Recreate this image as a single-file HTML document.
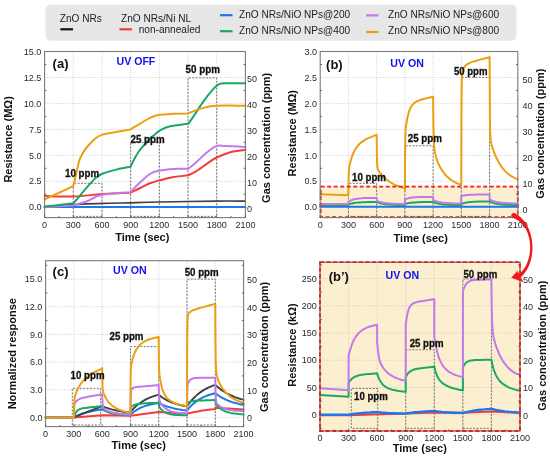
<!DOCTYPE html><html><head><meta charset="utf-8"><style>html,body{margin:0;padding:0;background:#fff;width:550px;height:458px;overflow:hidden}svg{display:block;will-change:transform}text{font-family:"Liberation Sans",sans-serif}</style></head><body>
<svg width="550" height="458" viewBox="0 0 550 458">
<rect x="45.5" y="4.5" width="471" height="36.2" rx="5" ry="5" fill="#e7e7e7"/>
<text x="59.80" y="21.80" font-size="10.10" font-weight="normal" fill="#222" text-anchor="start">ZnO NRs</text>
<line x1="60.4" y1="29.3" x2="73.0" y2="29.3" stroke="#111" stroke-width="2.2"/>
<text x="121.00" y="21.80" font-size="10.10" font-weight="normal" fill="#222" text-anchor="start">ZnO NRs/Ni NL</text>
<line x1="119.4" y1="29.3" x2="132.0" y2="29.3" stroke="#f23c3c" stroke-width="2.2"/>
<text x="138.70" y="32.80" font-size="10.10" font-weight="normal" fill="#222" text-anchor="start">non-annealed</text>
<line x1="220.0" y1="15.2" x2="232.5" y2="15.2" stroke="#1f78e6" stroke-width="2.2"/>
<text x="239.00" y="18.00" font-size="10.10" font-weight="normal" fill="#222" text-anchor="start">ZnO NRs/NiO NPs@200</text>
<line x1="220.0" y1="31.2" x2="232.5" y2="31.2" stroke="#1aa866" stroke-width="2.2"/>
<text x="239.00" y="34.20" font-size="10.10" font-weight="normal" fill="#222" text-anchor="start">ZnO NRs/NiO NPs@400</text>
<line x1="366.0" y1="15.4" x2="378.4" y2="15.4" stroke="#c378ec" stroke-width="2.2"/>
<text x="388.00" y="17.60" font-size="10.10" font-weight="normal" fill="#222" text-anchor="start">ZnO NRs/NiO NPs@600</text>
<line x1="366.0" y1="32.0" x2="378.4" y2="32.0" stroke="#eba00f" stroke-width="2.2"/>
<text x="388.00" y="33.90" font-size="10.10" font-weight="normal" fill="#222" text-anchor="start">ZnO NRs/NiO NPs@800</text>
<line x1="73.29" y1="51.50" x2="73.29" y2="217.60" stroke="#cdcdcd" stroke-width="0.9" stroke-dasharray="1,1.3"/>
<line x1="101.97" y1="51.50" x2="101.97" y2="217.60" stroke="#cdcdcd" stroke-width="0.9" stroke-dasharray="1,1.3"/>
<line x1="130.66" y1="51.50" x2="130.66" y2="217.60" stroke="#cdcdcd" stroke-width="0.9" stroke-dasharray="1,1.3"/>
<line x1="159.34" y1="51.50" x2="159.34" y2="217.60" stroke="#cdcdcd" stroke-width="0.9" stroke-dasharray="1,1.3"/>
<line x1="188.03" y1="51.50" x2="188.03" y2="217.60" stroke="#cdcdcd" stroke-width="0.9" stroke-dasharray="1,1.3"/>
<line x1="216.71" y1="51.50" x2="216.71" y2="217.60" stroke="#cdcdcd" stroke-width="0.9" stroke-dasharray="1,1.3"/>
<line x1="44.60" y1="207.22" x2="245.40" y2="207.22" stroke="#cdcdcd" stroke-width="0.9" stroke-dasharray="1,1.3"/>
<line x1="44.60" y1="181.27" x2="245.40" y2="181.27" stroke="#cdcdcd" stroke-width="0.9" stroke-dasharray="1,1.3"/>
<line x1="44.60" y1="155.31" x2="245.40" y2="155.31" stroke="#cdcdcd" stroke-width="0.9" stroke-dasharray="1,1.3"/>
<line x1="44.60" y1="129.36" x2="245.40" y2="129.36" stroke="#cdcdcd" stroke-width="0.9" stroke-dasharray="1,1.3"/>
<line x1="44.60" y1="103.41" x2="245.40" y2="103.41" stroke="#cdcdcd" stroke-width="0.9" stroke-dasharray="1,1.3"/>
<line x1="44.60" y1="77.45" x2="245.40" y2="77.45" stroke="#cdcdcd" stroke-width="0.9" stroke-dasharray="1,1.3"/>
<path d="M73.29,216.40 L73.29,183.30 L101.97,183.30 L101.97,216.40 Z" fill="none" stroke="#666" stroke-width="0.9" stroke-dasharray="2,1.4"/>
<path d="M130.66,216.40 L130.66,142.40 L159.34,142.40 L159.34,216.40 Z" fill="none" stroke="#666" stroke-width="0.9" stroke-dasharray="2,1.4"/>
<path d="M188.03,216.40 L188.03,77.90 L216.71,77.90 L216.71,216.40 Z" fill="none" stroke="#666" stroke-width="0.9" stroke-dasharray="2,1.4"/>
<path d="M44.6,206.9 C78.1,206.9 211.9,206.9 245.4,206.9" fill="none" stroke="#1f78e6" stroke-width="2.00" stroke-linejoin="round" stroke-linecap="round"/>
<path d="M44.6,206.7 C49.4,206.4 68.5,205.0 73.3,204.6 L73.3,204.6 C78.1,204.4 92.4,203.7 102.0,203.4 C111.5,203.1 121.1,203.0 130.7,202.8 C140.2,202.5 145.0,202.3 159.3,202.0 C173.7,201.8 202.4,201.2 216.7,201.1 C231.1,200.9 240.6,201.1 245.4,201.1" fill="none" stroke="#404040" stroke-width="1.70" stroke-linejoin="round" stroke-linecap="round"/>
<path d="M44.6,196.0 C49.4,196.1 63.7,196.8 73.3,196.5 C82.8,196.2 92.5,194.8 102.0,194.1 C111.5,193.5 125.6,192.9 130.4,192.7 L130.4,192.7 C132.0,191.9 137.0,189.6 140.2,188.0 C143.5,186.5 146.6,184.6 149.8,183.3 C153.0,182.1 155.6,181.5 159.5,180.4 C163.5,179.4 168.6,178.0 173.4,177.1 C178.1,176.3 185.6,175.6 188.0,175.3 L188.0,175.3 C189.3,174.7 192.3,173.7 195.5,171.7 C198.7,169.8 203.6,166.0 207.2,163.6 C210.7,161.2 212.6,159.4 216.6,157.5 C220.6,155.6 226.3,153.3 231.1,152.0 C235.9,150.7 243.0,150.2 245.4,149.8" fill="none" stroke="#f23c3c" stroke-width="2.00" stroke-linejoin="round" stroke-linecap="round"/>
<path d="M44.6,207.2 C49.4,206.9 68.5,205.7 73.3,205.4 L73.3,205.4 C75.7,204.6 82.8,202.8 87.6,201.0 C92.4,199.2 94.8,196.2 102.0,194.8 C109.1,193.3 125.6,192.6 130.4,192.2 L130.4,192.2 C132.0,190.5 137.0,185.3 140.2,182.3 C143.5,179.3 146.6,176.0 149.8,174.0 C153.0,172.0 155.6,171.4 159.5,170.6 C163.5,169.7 168.6,169.2 173.4,168.9 C178.1,168.6 185.6,168.9 188.0,168.9 L188.0,168.9 C189.3,167.9 192.3,165.7 195.5,162.9 C198.7,160.1 203.6,155.0 207.2,152.2 C210.7,149.4 213.8,146.9 216.6,145.9 C219.4,144.8 219.0,145.7 223.8,145.9 C228.6,146.0 241.8,146.7 245.4,146.9" fill="none" stroke="#c378ec" stroke-width="2.00" stroke-linejoin="round" stroke-linecap="round"/>
<path d="M44.6,206.7 C49.4,206.1 68.5,203.8 73.3,203.3 L73.3,203.3 C73.9,202.6 75.5,201.0 77.1,199.1 C78.7,197.3 80.8,194.6 82.8,192.2 C84.9,189.7 87.3,186.8 89.5,184.4 C91.8,182.0 94.0,179.4 96.2,177.6 C98.5,175.8 99.6,174.8 102.9,173.5 C106.3,172.1 111.7,170.8 116.3,169.6 C120.9,168.5 128.0,167.2 130.4,166.7 L130.4,166.7 C131.7,164.3 135.1,156.9 138.3,152.2 C141.5,147.5 147.2,141.5 149.8,138.7 C152.4,135.9 152.4,136.5 154.0,135.2 C155.6,133.9 156.9,132.3 159.4,130.8 C162.0,129.4 164.4,127.6 169.3,126.5 C174.1,125.3 185.3,124.1 188.5,123.6 L188.5,123.6 C189.7,121.9 192.9,117.3 195.5,113.4 C198.1,109.5 200.7,104.9 204.2,100.3 C207.7,95.7 213.4,88.6 216.6,85.8 C219.9,82.9 219.0,83.7 223.8,83.3 C228.6,82.9 241.8,83.3 245.4,83.3" fill="none" stroke="#1aa866" stroke-width="2.00" stroke-linejoin="round" stroke-linecap="round"/>
<path d="M44.6,199.4 C49.4,197.2 68.5,188.4 73.3,186.1 L73.3,186.1 C73.8,184.1 75.2,178.3 76.2,174.0 C77.2,169.7 78.2,164.0 79.3,160.5 C80.4,157.0 81.6,155.5 82.8,153.2 C84.1,151.0 85.0,149.4 87.1,147.0 C89.1,144.6 92.5,140.8 95.0,138.7 C97.5,136.6 98.7,135.7 102.3,134.6 C105.8,133.4 111.6,132.8 116.3,132.0 C121.0,131.1 128.0,129.8 130.4,129.4 L130.4,129.4 C132.0,128.4 137.0,125.6 140.2,123.6 C143.5,121.7 146.8,119.4 150.0,117.9 C153.2,116.5 155.4,115.5 159.3,114.8 C163.3,114.1 168.9,114.0 173.7,113.8 C178.5,113.5 185.6,113.4 188.0,113.4 L188.0,113.4 C189.6,112.7 194.4,110.7 197.6,109.6 C200.8,108.6 204.0,107.7 207.2,107.0 C210.3,106.4 210.3,105.9 216.7,105.7 C223.1,105.5 240.6,105.7 245.4,105.7" fill="none" stroke="#eba00f" stroke-width="2.00" stroke-linejoin="round" stroke-linecap="round"/>
<rect x="44.60" y="51.50" width="200.80" height="166.10" fill="none" stroke="#7a7a7a" stroke-width="1.1"/>
<line x1="44.60" y1="217.60" x2="44.60" y2="215.40" stroke="#555" stroke-width="0.9"/>
<line x1="58.94" y1="217.60" x2="58.94" y2="216.10" stroke="#555" stroke-width="0.9"/>
<line x1="73.29" y1="217.60" x2="73.29" y2="215.40" stroke="#555" stroke-width="0.9"/>
<line x1="87.63" y1="217.60" x2="87.63" y2="216.10" stroke="#555" stroke-width="0.9"/>
<line x1="101.97" y1="217.60" x2="101.97" y2="215.40" stroke="#555" stroke-width="0.9"/>
<line x1="116.31" y1="217.60" x2="116.31" y2="216.10" stroke="#555" stroke-width="0.9"/>
<line x1="130.66" y1="217.60" x2="130.66" y2="215.40" stroke="#555" stroke-width="0.9"/>
<line x1="145.00" y1="217.60" x2="145.00" y2="216.10" stroke="#555" stroke-width="0.9"/>
<line x1="159.34" y1="217.60" x2="159.34" y2="215.40" stroke="#555" stroke-width="0.9"/>
<line x1="173.69" y1="217.60" x2="173.69" y2="216.10" stroke="#555" stroke-width="0.9"/>
<line x1="188.03" y1="217.60" x2="188.03" y2="215.40" stroke="#555" stroke-width="0.9"/>
<line x1="202.37" y1="217.60" x2="202.37" y2="216.10" stroke="#555" stroke-width="0.9"/>
<line x1="216.71" y1="217.60" x2="216.71" y2="215.40" stroke="#555" stroke-width="0.9"/>
<line x1="231.06" y1="217.60" x2="231.06" y2="216.10" stroke="#555" stroke-width="0.9"/>
<line x1="245.40" y1="217.60" x2="245.40" y2="215.40" stroke="#555" stroke-width="0.9"/>
<line x1="44.60" y1="194.24" x2="46.40" y2="194.24" stroke="#555" stroke-width="0.9"/>
<line x1="44.60" y1="168.29" x2="46.40" y2="168.29" stroke="#555" stroke-width="0.9"/>
<line x1="44.60" y1="142.34" x2="46.40" y2="142.34" stroke="#555" stroke-width="0.9"/>
<line x1="44.60" y1="116.38" x2="46.40" y2="116.38" stroke="#555" stroke-width="0.9"/>
<line x1="44.60" y1="90.43" x2="46.40" y2="90.43" stroke="#555" stroke-width="0.9"/>
<line x1="44.60" y1="64.48" x2="46.40" y2="64.48" stroke="#555" stroke-width="0.9"/>
<line x1="245.40" y1="194.24" x2="243.60" y2="194.24" stroke="#555" stroke-width="0.9"/>
<line x1="245.40" y1="168.29" x2="243.60" y2="168.29" stroke="#555" stroke-width="0.9"/>
<line x1="245.40" y1="142.34" x2="243.60" y2="142.34" stroke="#555" stroke-width="0.9"/>
<line x1="245.40" y1="116.38" x2="243.60" y2="116.38" stroke="#555" stroke-width="0.9"/>
<line x1="245.40" y1="90.43" x2="243.60" y2="90.43" stroke="#555" stroke-width="0.9"/>
<line x1="245.40" y1="64.48" x2="243.60" y2="64.48" stroke="#555" stroke-width="0.9"/>
<text x="44.60" y="227.80" font-size="9.00" font-weight="normal" fill="#2a2a2a" text-anchor="middle">0</text>
<text x="73.29" y="227.80" font-size="9.00" font-weight="normal" fill="#2a2a2a" text-anchor="middle">300</text>
<text x="101.97" y="227.80" font-size="9.00" font-weight="normal" fill="#2a2a2a" text-anchor="middle">600</text>
<text x="130.66" y="227.80" font-size="9.00" font-weight="normal" fill="#2a2a2a" text-anchor="middle">900</text>
<text x="159.34" y="227.80" font-size="9.00" font-weight="normal" fill="#2a2a2a" text-anchor="middle">1200</text>
<text x="188.03" y="227.80" font-size="9.00" font-weight="normal" fill="#2a2a2a" text-anchor="middle">1500</text>
<text x="216.71" y="227.80" font-size="9.00" font-weight="normal" fill="#2a2a2a" text-anchor="middle">1800</text>
<text x="245.40" y="227.80" font-size="9.00" font-weight="normal" fill="#2a2a2a" text-anchor="middle">2100</text>
<text x="41.40" y="210.42" font-size="9.00" font-weight="normal" fill="#2a2a2a" text-anchor="end">0.0</text>
<text x="41.40" y="184.47" font-size="9.00" font-weight="normal" fill="#2a2a2a" text-anchor="end">2.5</text>
<text x="41.40" y="158.51" font-size="9.00" font-weight="normal" fill="#2a2a2a" text-anchor="end">5.0</text>
<text x="41.40" y="132.56" font-size="9.00" font-weight="normal" fill="#2a2a2a" text-anchor="end">7.5</text>
<text x="41.40" y="106.61" font-size="9.00" font-weight="normal" fill="#2a2a2a" text-anchor="end">10.0</text>
<text x="41.40" y="80.65" font-size="9.00" font-weight="normal" fill="#2a2a2a" text-anchor="end">12.5</text>
<text x="41.40" y="54.70" font-size="9.00" font-weight="normal" fill="#2a2a2a" text-anchor="end">15.0</text>
<text x="246.90" y="211.62" font-size="9.00" font-weight="normal" fill="#2a2a2a" text-anchor="start">0</text>
<text x="246.90" y="185.67" font-size="9.00" font-weight="normal" fill="#2a2a2a" text-anchor="start">10</text>
<text x="246.90" y="159.71" font-size="9.00" font-weight="normal" fill="#2a2a2a" text-anchor="start">20</text>
<text x="246.90" y="133.76" font-size="9.00" font-weight="normal" fill="#2a2a2a" text-anchor="start">30</text>
<text x="246.90" y="107.81" font-size="9.00" font-weight="normal" fill="#2a2a2a" text-anchor="start">40</text>
<text x="246.90" y="81.85" font-size="9.00" font-weight="normal" fill="#2a2a2a" text-anchor="start">50</text>
<text x="52.60" y="67.60" font-size="13.00" font-weight="bold" fill="#111" text-anchor="start">(a)</text>
<text x="116.50" y="65.00" font-size="10.60" font-weight="bold" fill="#1010f0" text-anchor="start">UV OFF</text>
<text x="65.00" y="177.40" font-size="10.20" font-weight="bold" fill="#111" text-anchor="start" textLength="34.1" lengthAdjust="spacingAndGlyphs" stroke="#111" stroke-width="0.30">10 ppm</text>
<text x="130.50" y="143.00" font-size="10.20" font-weight="bold" fill="#111" text-anchor="start" textLength="34.2" lengthAdjust="spacingAndGlyphs" stroke="#111" stroke-width="0.30">25 ppm</text>
<text x="185.60" y="73.30" font-size="10.20" font-weight="bold" fill="#111" text-anchor="start" textLength="34.3" lengthAdjust="spacingAndGlyphs" stroke="#111" stroke-width="0.30">50 ppm</text>
<text x="142.30" y="241.00" font-size="11.00" font-weight="bold" fill="#111" text-anchor="middle">Time (sec)</text>
<text transform="translate(11.80,139.40) rotate(-90)" x="0" y="0" font-size="11.00" font-weight="bold" fill="#111" text-anchor="middle">Resistance (MΩ)</text>
<text transform="translate(269.50,137.80) rotate(-90)" x="0" y="0" font-size="11.00" font-weight="bold" fill="#111" text-anchor="middle">Gas concentration (ppm)</text>
<rect x="320.20" y="186.6" width="197.60" height="31.00" fill="#fcefcf"/>
<line x1="348.43" y1="51.50" x2="348.43" y2="217.60" stroke="#cdcdcd" stroke-width="0.9" stroke-dasharray="1,1.3"/>
<line x1="376.66" y1="51.50" x2="376.66" y2="217.60" stroke="#cdcdcd" stroke-width="0.9" stroke-dasharray="1,1.3"/>
<line x1="404.89" y1="51.50" x2="404.89" y2="217.60" stroke="#cdcdcd" stroke-width="0.9" stroke-dasharray="1,1.3"/>
<line x1="433.11" y1="51.50" x2="433.11" y2="217.60" stroke="#cdcdcd" stroke-width="0.9" stroke-dasharray="1,1.3"/>
<line x1="461.34" y1="51.50" x2="461.34" y2="217.60" stroke="#cdcdcd" stroke-width="0.9" stroke-dasharray="1,1.3"/>
<line x1="489.57" y1="51.50" x2="489.57" y2="217.60" stroke="#cdcdcd" stroke-width="0.9" stroke-dasharray="1,1.3"/>
<line x1="320.20" y1="207.22" x2="517.80" y2="207.22" stroke="#cdcdcd" stroke-width="0.9" stroke-dasharray="1,1.3"/>
<line x1="320.20" y1="181.27" x2="517.80" y2="181.27" stroke="#cdcdcd" stroke-width="0.9" stroke-dasharray="1,1.3"/>
<line x1="320.20" y1="155.31" x2="517.80" y2="155.31" stroke="#cdcdcd" stroke-width="0.9" stroke-dasharray="1,1.3"/>
<line x1="320.20" y1="129.36" x2="517.80" y2="129.36" stroke="#cdcdcd" stroke-width="0.9" stroke-dasharray="1,1.3"/>
<line x1="320.20" y1="103.41" x2="517.80" y2="103.41" stroke="#cdcdcd" stroke-width="0.9" stroke-dasharray="1,1.3"/>
<line x1="320.20" y1="77.45" x2="517.80" y2="77.45" stroke="#cdcdcd" stroke-width="0.9" stroke-dasharray="1,1.3"/>
<path d="M348.43,216.40 L348.43,183.30 L376.66,183.30 L376.66,216.40 Z" fill="none" stroke="#666" stroke-width="0.9" stroke-dasharray="2,1.4"/>
<path d="M404.89,216.40 L404.89,145.80 L433.11,145.80 L433.11,216.40 Z" fill="none" stroke="#666" stroke-width="0.9" stroke-dasharray="2,1.4"/>
<path d="M461.34,216.40 L461.34,77.40 L489.57,77.40 L489.57,216.40 Z" fill="none" stroke="#666" stroke-width="0.9" stroke-dasharray="2,1.4"/>
<path d="M320.2,206.7 L517.8,206.7" fill="none" stroke="#1f78e6" stroke-width="2.00" stroke-linejoin="round" stroke-linecap="round"/>
<path d="M320.2,205.1 L348.4,205.1 L348.4,204.6 L348.5,204.6 L348.6,204.5 L348.7,204.5 L348.8,204.5 L349.0,204.4 L349.2,204.3 L349.4,204.2 L349.7,204.1 L349.9,204.0 L350.3,203.9 L350.8,203.7 L351.3,203.6 L351.8,203.5 L352.4,203.3 L353.1,203.2 L354.1,203.0 L355.0,202.8 L356.0,202.7 L357.4,202.6 L358.8,202.4 L360.2,202.4 L361.6,202.3 L363.5,202.2 L365.4,202.2 L367.2,202.1 L369.6,202.1 L372.0,202.1 L374.3,202.1 L376.7,202.0 L376.7,202.0 L376.8,202.1 L376.8,202.1 L376.9,202.1 L377.0,202.2 L377.2,202.3 L377.4,202.3 L377.6,202.4 L377.9,202.5 L378.2,202.6 L378.5,202.7 L379.0,202.9 L379.5,203.0 L380.0,203.2 L380.6,203.3 L381.4,203.5 L382.3,203.7 L383.2,203.8 L384.2,204.0 L385.6,204.2 L387.0,204.4 L388.4,204.5 L389.8,204.6 L391.7,204.7 L393.6,204.8 L395.5,204.9 L397.8,205.0 L400.2,205.0 L402.5,205.0 L404.9,205.1 L404.9,204.1 L405.0,204.1 L405.1,204.0 L405.2,204.0 L405.3,204.0 L405.5,203.9 L405.6,203.8 L405.8,203.8 L406.1,203.7 L406.4,203.6 L406.8,203.5 L407.2,203.4 L407.7,203.3 L408.3,203.2 L408.8,203.1 L409.6,202.9 L410.5,202.8 L411.5,202.7 L412.4,202.6 L413.8,202.5 L415.2,202.4 L416.6,202.3 L418.1,202.2 L419.9,202.2 L421.8,202.1 L423.7,202.1 L426.1,202.1 L428.4,202.1 L430.8,202.0 L433.1,202.0 L433.1,202.0 L433.2,202.1 L433.3,202.1 L433.4,202.1 L433.5,202.2 L433.7,202.3 L433.9,202.3 L434.1,202.4 L434.3,202.5 L434.6,202.6 L435.0,202.7 L435.5,202.9 L435.9,203.0 L436.5,203.2 L437.1,203.3 L437.8,203.5 L438.8,203.7 L439.7,203.8 L440.6,204.0 L442.1,204.2 L443.5,204.4 L444.9,204.5 L446.3,204.6 L448.2,204.7 L450.1,204.8 L451.9,204.9 L454.3,205.0 L456.6,205.0 L459.0,205.0 L461.3,205.1 L461.3,204.1 L461.4,204.1 L461.5,204.0 L461.6,204.0 L461.7,203.9 L461.9,203.9 L462.1,203.8 L462.3,203.7 L462.6,203.6 L462.8,203.5 L463.2,203.4 L463.7,203.2 L464.2,203.1 L464.7,202.9 L465.3,202.8 L466.0,202.6 L467.0,202.5 L467.9,202.3 L468.9,202.2 L470.3,202.0 L471.7,201.9 L473.1,201.8 L474.5,201.8 L476.4,201.7 L478.3,201.6 L480.2,201.6 L482.5,201.6 L484.9,201.5 L487.2,201.5 L489.6,201.5 L489.6,201.5 L489.7,201.6 L489.8,201.6 L489.9,201.6 L489.9,201.7 L490.1,201.8 L490.3,201.9 L490.5,201.9 L490.8,202.1 L491.1,202.2 L491.5,202.3 L491.9,202.5 L492.4,202.6 L493.0,202.8 L493.5,203.0 L494.3,203.2 L495.2,203.4 L496.2,203.6 L497.1,203.8 L498.5,204.0 L499.9,204.2 L501.3,204.4 L502.7,204.5 L504.6,204.7 L506.5,204.8 L508.4,204.8 L510.7,204.9 L513.1,205.0 L515.4,205.0 L517.8,205.1" fill="none" stroke="#1aa866" stroke-width="2.00" stroke-linejoin="round" stroke-linecap="round"/>
<path d="M320.2,204.0 L348.4,204.0 L348.4,201.8 L348.5,201.8 L348.6,201.7 L348.7,201.6 L348.8,201.6 L349.0,201.4 L349.2,201.3 L349.4,201.2 L349.7,201.1 L349.9,200.9 L350.3,200.7 L350.8,200.5 L351.3,200.3 L351.8,200.0 L352.4,199.8 L353.1,199.6 L354.1,199.3 L355.0,199.1 L356.0,198.9 L357.4,198.7 L358.8,198.5 L360.2,198.4 L361.6,198.3 L363.5,198.1 L365.4,198.1 L367.2,198.0 L369.6,198.0 L372.0,197.9 L374.3,197.9 L376.7,197.9 L376.7,200.9 L376.8,200.9 L376.8,201.0 L376.9,201.0 L377.0,201.0 L377.2,201.1 L377.4,201.2 L377.6,201.3 L377.9,201.4 L378.2,201.5 L378.5,201.6 L379.0,201.7 L379.5,201.9 L380.0,202.0 L380.6,202.2 L381.4,202.3 L382.3,202.5 L383.2,202.7 L384.2,202.9 L385.6,203.1 L387.0,203.2 L388.4,203.3 L389.8,203.5 L391.7,203.6 L393.6,203.7 L395.5,203.7 L397.8,203.8 L400.2,203.9 L402.5,203.9 L404.9,203.9 L404.9,199.4 L405.0,199.4 L405.1,199.3 L405.2,199.3 L405.3,199.3 L405.5,199.2 L405.6,199.1 L405.8,199.0 L406.1,198.9 L406.4,198.8 L406.8,198.7 L407.2,198.5 L407.7,198.4 L408.3,198.3 L408.8,198.1 L409.6,198.0 L410.5,197.8 L411.5,197.6 L412.4,197.5 L413.8,197.4 L415.2,197.3 L416.6,197.2 L418.1,197.1 L419.9,197.0 L421.8,197.0 L423.7,196.9 L426.1,196.9 L428.4,196.9 L430.8,196.9 L433.1,196.9 L433.1,200.0 L433.2,200.0 L433.3,200.0 L433.4,200.1 L433.5,200.1 L433.7,200.2 L433.9,200.3 L434.1,200.4 L434.3,200.5 L434.6,200.6 L435.0,200.8 L435.5,200.9 L435.9,201.1 L436.5,201.3 L437.1,201.4 L437.8,201.6 L438.8,201.9 L439.7,202.1 L440.6,202.2 L442.1,202.5 L443.5,202.7 L444.9,202.8 L446.3,203.0 L448.2,203.1 L450.1,203.2 L451.9,203.3 L454.3,203.4 L456.6,203.4 L459.0,203.5 L461.3,203.5 L461.3,196.1 L461.4,196.0 L461.5,196.0 L461.6,196.0 L461.7,196.0 L461.9,195.9 L462.1,195.9 L462.3,195.8 L462.6,195.8 L462.8,195.7 L463.2,195.6 L463.7,195.5 L464.2,195.4 L464.7,195.4 L465.3,195.3 L466.0,195.2 L467.0,195.1 L467.9,195.0 L468.9,194.9 L470.3,194.8 L471.7,194.8 L473.1,194.7 L474.5,194.7 L476.4,194.6 L478.3,194.6 L480.2,194.6 L482.5,194.5 L484.9,194.5 L487.2,194.5 L489.6,194.5 L489.6,199.4 L489.7,199.5 L489.8,199.5 L489.9,199.6 L489.9,199.6 L490.1,199.7 L490.3,199.8 L490.5,199.9 L490.8,200.1 L491.1,200.2 L491.5,200.4 L491.9,200.5 L492.4,200.7 L493.0,200.9 L493.5,201.1 L494.3,201.4 L495.2,201.6 L496.2,201.9 L497.1,202.1 L498.5,202.3 L499.9,202.5 L501.3,202.7 L502.7,202.9 L504.6,203.0 L506.5,203.1 L508.4,203.2 L510.7,203.3 L513.1,203.4 L515.4,203.5 L517.8,203.5" fill="none" stroke="#c378ec" stroke-width="2.00" stroke-linejoin="round" stroke-linecap="round"/>
<path d="M320.2,194.2 L348.4,195.3 L348.4,195.3 L348.5,185.2 L348.6,178.9 L348.7,174.8 L348.8,172.2 L349.0,169.2 L349.2,167.5 L349.4,166.4 L349.7,165.0 L349.9,163.8 L350.3,162.3 L350.8,160.5 L351.3,158.9 L351.8,157.2 L352.4,155.6 L353.1,153.7 L354.1,151.6 L355.0,149.8 L356.0,148.2 L357.4,146.3 L358.8,144.6 L360.2,143.3 L361.6,142.1 L363.5,140.8 L365.4,139.7 L367.2,138.7 L369.6,137.6 L372.0,136.6 L374.3,135.6 L376.7,134.7 L376.7,135.2 L376.8,144.6 L376.8,151.4 L376.9,156.3 L377.0,159.9 L377.2,164.4 L377.4,166.8 L377.6,168.2 L377.9,169.4 L378.2,170.1 L378.5,170.7 L379.0,171.4 L379.5,172.1 L380.0,172.8 L380.6,173.5 L381.4,174.4 L382.3,175.5 L383.2,176.5 L384.2,177.4 L385.6,178.7 L387.0,179.9 L388.4,181.0 L389.8,182.0 L391.7,183.1 L393.6,184.2 L395.5,185.1 L397.8,186.0 L400.2,186.9 L402.5,187.6 L404.9,188.2 L404.9,190.6 L405.0,168.0 L405.1,154.0 L405.2,145.2 L405.3,139.5 L405.5,133.1 L405.6,129.8 L405.8,127.7 L406.1,125.4 L406.4,123.4 L406.8,121.1 L407.2,118.6 L407.7,116.4 L408.3,114.1 L408.8,112.2 L409.6,110.0 L410.5,107.9 L411.5,106.2 L412.4,104.9 L413.8,103.4 L415.2,102.3 L416.6,101.5 L418.1,100.8 L419.9,100.1 L421.8,99.5 L423.7,99.0 L426.1,98.4 L428.4,97.8 L430.8,97.2 L433.1,96.7 L433.1,96.7 L433.2,109.4 L433.3,118.8 L433.4,125.8 L433.5,131.0 L433.7,138.1 L433.9,142.5 L434.1,145.3 L434.3,148.3 L434.6,150.4 L435.0,152.6 L435.5,154.9 L435.9,156.7 L436.5,158.7 L437.1,160.4 L437.8,162.4 L438.8,164.5 L439.7,166.4 L440.6,168.1 L442.1,170.4 L443.5,172.4 L444.9,174.2 L446.3,175.7 L448.2,177.6 L450.1,179.1 L451.9,180.5 L454.3,181.9 L456.6,183.1 L459.0,184.0 L461.3,184.8 L461.3,182.8 L461.4,140.0 L461.5,113.9 L461.6,97.9 L461.7,88.1 L461.9,78.2 L462.1,74.2 L462.3,72.4 L462.6,71.1 L462.8,70.2 L463.2,69.3 L463.7,68.4 L464.2,67.6 L464.7,66.7 L465.3,66.0 L466.0,65.2 L467.0,64.4 L467.9,63.8 L468.9,63.3 L470.3,62.6 L471.7,62.1 L473.1,61.6 L474.5,61.2 L476.4,60.7 L478.3,60.1 L480.2,59.6 L482.5,59.0 L484.9,58.4 L487.2,57.8 L489.6,57.2 L489.6,56.7 L489.7,80.1 L489.8,97.0 L489.9,109.2 L489.9,118.1 L490.1,129.2 L490.3,135.2 L490.5,138.7 L490.8,141.5 L491.1,143.1 L491.5,144.6 L491.9,146.2 L492.4,147.6 L493.0,149.2 L493.5,150.8 L494.3,152.8 L495.2,155.1 L496.2,157.2 L497.1,159.2 L498.5,161.9 L499.9,164.3 L501.3,166.4 L502.7,168.3 L504.6,170.5 L506.5,172.4 L508.4,174.1 L510.7,175.8 L513.1,177.2 L515.4,178.4 L517.8,179.3" fill="none" stroke="#eba00f" stroke-width="2.00" stroke-linejoin="round" stroke-linecap="round"/>
<rect x="320.70" y="186.6" width="197.10" height="30.60" fill="none" stroke="#e8201c" stroke-width="1.8" stroke-dasharray="4,2.5"/>
<rect x="320.20" y="51.50" width="197.60" height="166.10" fill="none" stroke="#7a7a7a" stroke-width="1.1"/>
<line x1="320.20" y1="217.60" x2="320.20" y2="215.40" stroke="#555" stroke-width="0.9"/>
<line x1="334.31" y1="217.60" x2="334.31" y2="216.10" stroke="#555" stroke-width="0.9"/>
<line x1="348.43" y1="217.60" x2="348.43" y2="215.40" stroke="#555" stroke-width="0.9"/>
<line x1="362.54" y1="217.60" x2="362.54" y2="216.10" stroke="#555" stroke-width="0.9"/>
<line x1="376.66" y1="217.60" x2="376.66" y2="215.40" stroke="#555" stroke-width="0.9"/>
<line x1="390.77" y1="217.60" x2="390.77" y2="216.10" stroke="#555" stroke-width="0.9"/>
<line x1="404.89" y1="217.60" x2="404.89" y2="215.40" stroke="#555" stroke-width="0.9"/>
<line x1="419.00" y1="217.60" x2="419.00" y2="216.10" stroke="#555" stroke-width="0.9"/>
<line x1="433.11" y1="217.60" x2="433.11" y2="215.40" stroke="#555" stroke-width="0.9"/>
<line x1="447.23" y1="217.60" x2="447.23" y2="216.10" stroke="#555" stroke-width="0.9"/>
<line x1="461.34" y1="217.60" x2="461.34" y2="215.40" stroke="#555" stroke-width="0.9"/>
<line x1="475.46" y1="217.60" x2="475.46" y2="216.10" stroke="#555" stroke-width="0.9"/>
<line x1="489.57" y1="217.60" x2="489.57" y2="215.40" stroke="#555" stroke-width="0.9"/>
<line x1="503.69" y1="217.60" x2="503.69" y2="216.10" stroke="#555" stroke-width="0.9"/>
<line x1="517.80" y1="217.60" x2="517.80" y2="215.40" stroke="#555" stroke-width="0.9"/>
<line x1="320.20" y1="194.24" x2="322.00" y2="194.24" stroke="#555" stroke-width="0.9"/>
<line x1="320.20" y1="168.29" x2="322.00" y2="168.29" stroke="#555" stroke-width="0.9"/>
<line x1="320.20" y1="142.34" x2="322.00" y2="142.34" stroke="#555" stroke-width="0.9"/>
<line x1="320.20" y1="116.38" x2="322.00" y2="116.38" stroke="#555" stroke-width="0.9"/>
<line x1="320.20" y1="90.43" x2="322.00" y2="90.43" stroke="#555" stroke-width="0.9"/>
<line x1="320.20" y1="64.48" x2="322.00" y2="64.48" stroke="#555" stroke-width="0.9"/>
<line x1="517.80" y1="194.24" x2="516.00" y2="194.24" stroke="#555" stroke-width="0.9"/>
<line x1="517.80" y1="168.29" x2="516.00" y2="168.29" stroke="#555" stroke-width="0.9"/>
<line x1="517.80" y1="142.34" x2="516.00" y2="142.34" stroke="#555" stroke-width="0.9"/>
<line x1="517.80" y1="116.38" x2="516.00" y2="116.38" stroke="#555" stroke-width="0.9"/>
<line x1="517.80" y1="90.43" x2="516.00" y2="90.43" stroke="#555" stroke-width="0.9"/>
<line x1="517.80" y1="64.48" x2="516.00" y2="64.48" stroke="#555" stroke-width="0.9"/>
<text x="320.20" y="227.80" font-size="9.00" font-weight="normal" fill="#2a2a2a" text-anchor="middle">0</text>
<text x="348.43" y="227.80" font-size="9.00" font-weight="normal" fill="#2a2a2a" text-anchor="middle">300</text>
<text x="376.66" y="227.80" font-size="9.00" font-weight="normal" fill="#2a2a2a" text-anchor="middle">600</text>
<text x="404.89" y="227.80" font-size="9.00" font-weight="normal" fill="#2a2a2a" text-anchor="middle">900</text>
<text x="433.11" y="227.80" font-size="9.00" font-weight="normal" fill="#2a2a2a" text-anchor="middle">1200</text>
<text x="461.34" y="227.80" font-size="9.00" font-weight="normal" fill="#2a2a2a" text-anchor="middle">1500</text>
<text x="489.57" y="227.80" font-size="9.00" font-weight="normal" fill="#2a2a2a" text-anchor="middle">1800</text>
<text x="517.80" y="227.80" font-size="9.00" font-weight="normal" fill="#2a2a2a" text-anchor="middle">2100</text>
<text x="317.00" y="210.42" font-size="9.00" font-weight="normal" fill="#2a2a2a" text-anchor="end">0.0</text>
<text x="317.00" y="184.47" font-size="9.00" font-weight="normal" fill="#2a2a2a" text-anchor="end">0.5</text>
<text x="317.00" y="158.51" font-size="9.00" font-weight="normal" fill="#2a2a2a" text-anchor="end">1.0</text>
<text x="317.00" y="132.56" font-size="9.00" font-weight="normal" fill="#2a2a2a" text-anchor="end">1.5</text>
<text x="317.00" y="106.61" font-size="9.00" font-weight="normal" fill="#2a2a2a" text-anchor="end">2.0</text>
<text x="317.00" y="80.65" font-size="9.00" font-weight="normal" fill="#2a2a2a" text-anchor="end">2.5</text>
<text x="317.00" y="54.70" font-size="9.00" font-weight="normal" fill="#2a2a2a" text-anchor="end">3.0</text>
<text x="522.60" y="212.82" font-size="9.00" font-weight="normal" fill="#2a2a2a" text-anchor="start">0</text>
<text x="522.60" y="186.87" font-size="9.00" font-weight="normal" fill="#2a2a2a" text-anchor="start">10</text>
<text x="522.60" y="160.91" font-size="9.00" font-weight="normal" fill="#2a2a2a" text-anchor="start">20</text>
<text x="522.60" y="134.96" font-size="9.00" font-weight="normal" fill="#2a2a2a" text-anchor="start">30</text>
<text x="522.60" y="109.01" font-size="9.00" font-weight="normal" fill="#2a2a2a" text-anchor="start">40</text>
<text x="522.60" y="83.05" font-size="9.00" font-weight="normal" fill="#2a2a2a" text-anchor="start">50</text>
<text x="326.10" y="68.90" font-size="13.00" font-weight="bold" fill="#111" text-anchor="start">(b)</text>
<text x="390.30" y="66.50" font-size="10.60" font-weight="bold" fill="#1010f0" text-anchor="start">UV ON</text>
<text x="352.00" y="180.70" font-size="10.20" font-weight="bold" fill="#111" text-anchor="start" textLength="34.0" lengthAdjust="spacingAndGlyphs" stroke="#111" stroke-width="0.30">10 ppm</text>
<text x="407.70" y="142.40" font-size="10.20" font-weight="bold" fill="#111" text-anchor="start" textLength="34.3" lengthAdjust="spacingAndGlyphs" stroke="#111" stroke-width="0.30">25 ppm</text>
<text x="453.90" y="75.00" font-size="10.20" font-weight="bold" fill="#111" text-anchor="start" textLength="33.6" lengthAdjust="spacingAndGlyphs" stroke="#111" stroke-width="0.30">50 ppm</text>
<text x="420.70" y="242.00" font-size="11.00" font-weight="bold" fill="#111" text-anchor="middle">Time (sec)</text>
<text transform="translate(295.90,133.20) rotate(-90)" x="0" y="0" font-size="11.00" font-weight="bold" fill="#111" text-anchor="middle">Resistance (MΩ)</text>
<text transform="translate(544.20,133.70) rotate(-90)" x="0" y="0" font-size="11.00" font-weight="bold" fill="#111" text-anchor="middle">Gas concentration (ppm)</text>
<line x1="73.89" y1="260.70" x2="73.89" y2="426.60" stroke="#cdcdcd" stroke-width="0.9" stroke-dasharray="1,1.3"/>
<line x1="102.17" y1="260.70" x2="102.17" y2="426.60" stroke="#cdcdcd" stroke-width="0.9" stroke-dasharray="1,1.3"/>
<line x1="130.46" y1="260.70" x2="130.46" y2="426.60" stroke="#cdcdcd" stroke-width="0.9" stroke-dasharray="1,1.3"/>
<line x1="158.74" y1="260.70" x2="158.74" y2="426.60" stroke="#cdcdcd" stroke-width="0.9" stroke-dasharray="1,1.3"/>
<line x1="187.03" y1="260.70" x2="187.03" y2="426.60" stroke="#cdcdcd" stroke-width="0.9" stroke-dasharray="1,1.3"/>
<line x1="215.31" y1="260.70" x2="215.31" y2="426.60" stroke="#cdcdcd" stroke-width="0.9" stroke-dasharray="1,1.3"/>
<line x1="45.60" y1="417.38" x2="243.60" y2="417.38" stroke="#cdcdcd" stroke-width="0.9" stroke-dasharray="1,1.3"/>
<line x1="45.60" y1="389.73" x2="243.60" y2="389.73" stroke="#cdcdcd" stroke-width="0.9" stroke-dasharray="1,1.3"/>
<line x1="45.60" y1="362.08" x2="243.60" y2="362.08" stroke="#cdcdcd" stroke-width="0.9" stroke-dasharray="1,1.3"/>
<line x1="45.60" y1="334.43" x2="243.60" y2="334.43" stroke="#cdcdcd" stroke-width="0.9" stroke-dasharray="1,1.3"/>
<line x1="45.60" y1="306.78" x2="243.60" y2="306.78" stroke="#cdcdcd" stroke-width="0.9" stroke-dasharray="1,1.3"/>
<line x1="45.60" y1="279.13" x2="243.60" y2="279.13" stroke="#cdcdcd" stroke-width="0.9" stroke-dasharray="1,1.3"/>
<path d="M72.30,425.00 L72.30,388.30 L100.60,388.30 L100.60,425.00 Z" fill="none" stroke="#666" stroke-width="0.9" stroke-dasharray="2,1.4"/>
<path d="M130.46,425.00 L130.46,346.60 L158.74,346.60 L158.74,425.00 Z" fill="none" stroke="#666" stroke-width="0.9" stroke-dasharray="2,1.4"/>
<path d="M187.03,425.00 L187.03,279.13 L215.31,279.13 L215.31,425.00 Z" fill="none" stroke="#666" stroke-width="0.9" stroke-dasharray="2,1.4"/>
<path d="M45.6,417.4 L73.9,417.4 L73.9,417.4 L102.2,415.2 L102.2,415.2 L130.5,415.8 L130.5,415.8 L158.7,412.0 L158.7,412.0 L187.0,413.7 L187.0,413.7 L187.1,413.7 L187.2,413.6 L187.3,413.6 L187.4,413.6 L187.6,413.6 L187.8,413.5 L188.0,413.5 L188.3,413.4 L188.5,413.3 L188.9,413.2 L189.4,413.1 L189.9,413.0 L190.4,412.9 L191.0,412.7 L191.7,412.6 L192.7,412.4 L193.6,412.2 L194.6,412.0 L196.0,411.7 L197.4,411.4 L198.8,411.2 L200.2,410.9 L202.1,410.6 L204.0,410.4 L205.9,410.1 L208.2,409.8 L210.6,409.5 L213.0,409.3 L215.3,409.0 L215.3,407.8 L243.6,409.5" fill="none" stroke="#f23c3c" stroke-width="2.00" stroke-linejoin="round" stroke-linecap="round"/>
<path d="M45.6,416.9 L73.9,417.4 L73.9,417.4 L74.0,417.3 L74.1,417.3 L74.2,417.2 L74.3,417.2 L74.5,417.1 L74.6,417.0 L74.8,416.9 L75.1,416.7 L75.4,416.6 L75.8,416.4 L76.2,416.2 L76.7,416.0 L77.3,415.7 L77.8,415.5 L78.6,415.1 L79.5,414.8 L80.5,414.4 L81.4,414.0 L82.8,413.5 L84.3,413.1 L85.7,412.7 L87.1,412.3 L89.0,411.8 L90.9,411.4 L92.7,411.0 L95.1,410.5 L97.5,410.1 L99.8,409.8 L102.2,409.5 L102.2,409.5 L102.3,409.6 L102.4,409.6 L102.5,409.7 L102.5,409.7 L102.7,409.8 L102.9,409.9 L103.1,410.0 L103.4,410.1 L103.7,410.2 L104.1,410.3 L104.5,410.5 L105.0,410.7 L105.6,410.9 L106.1,411.1 L106.9,411.3 L107.8,411.6 L108.8,411.9 L109.7,412.2 L111.1,412.5 L112.5,412.8 L114.0,413.1 L115.4,413.3 L117.3,413.6 L119.1,413.9 L121.0,414.1 L123.4,414.3 L125.7,414.5 L128.1,414.7 L130.5,414.8 L130.5,414.6 L130.6,414.5 L130.6,414.4 L130.7,414.4 L130.8,414.3 L131.0,414.1 L131.2,413.9 L131.4,413.8 L131.7,413.5 L132.0,413.3 L132.3,413.0 L132.8,412.6 L133.3,412.3 L133.9,411.8 L134.4,411.4 L135.2,410.9 L136.1,410.3 L137.1,409.7 L138.0,409.2 L139.4,408.4 L140.8,407.7 L142.2,407.1 L143.7,406.6 L145.5,405.9 L147.4,405.3 L149.3,404.8 L151.7,404.2 L154.0,403.7 L156.4,403.3 L158.7,402.9 L158.7,403.0 L158.8,403.1 L158.9,403.1 L159.0,403.2 L159.1,403.2 L159.3,403.3 L159.5,403.4 L159.7,403.5 L160.0,403.6 L160.3,403.8 L160.6,403.9 L161.1,404.2 L161.6,404.4 L162.1,404.6 L162.7,404.9 L163.5,405.2 L164.4,405.5 L165.3,405.9 L166.3,406.2 L167.7,406.7 L169.1,407.1 L170.5,407.5 L171.9,407.9 L173.8,408.4 L175.7,408.8 L177.6,409.2 L180.0,409.6 L182.3,410.0 L184.7,410.3 L187.0,410.6 L187.0,410.5 L187.1,410.3 L187.2,410.2 L187.3,410.1 L187.4,410.0 L187.6,409.8 L187.8,409.5 L188.0,409.3 L188.3,408.9 L188.5,408.6 L188.9,408.2 L189.4,407.6 L189.9,407.1 L190.4,406.5 L191.0,405.9 L191.7,405.2 L192.7,404.3 L193.6,403.5 L194.6,402.7 L196.0,401.6 L197.4,400.6 L198.8,399.7 L200.2,398.8 L202.1,397.8 L204.0,396.9 L205.9,396.1 L208.2,395.3 L210.6,394.5 L213.0,393.8 L215.3,393.3 L215.3,393.2 L215.4,393.3 L215.5,393.4 L215.6,393.5 L215.7,393.5 L215.9,393.7 L216.1,393.8 L216.3,394.0 L216.5,394.2 L216.8,394.4 L217.2,394.7 L217.7,395.0 L218.1,395.3 L218.7,395.7 L219.3,396.1 L220.0,396.5 L221.0,397.1 L221.9,397.6 L222.9,398.2 L224.3,398.9 L225.7,399.6 L227.1,400.2 L228.5,400.8 L230.4,401.5 L232.3,402.1 L234.2,402.7 L236.5,403.3 L238.9,403.9 L241.2,404.4 L243.6,404.8" fill="none" stroke="#1f78e6" stroke-width="2.00" stroke-linejoin="round" stroke-linecap="round"/>
<path d="M45.6,417.4 L73.9,417.4 L73.9,417.1 L102.2,406.1 L102.2,406.1 L102.3,406.2 L102.4,406.2 L102.5,406.3 L102.5,406.3 L102.7,406.4 L102.9,406.5 L103.1,406.5 L103.4,406.6 L103.7,406.8 L104.1,406.9 L104.5,407.1 L105.0,407.3 L105.6,407.5 L106.1,407.7 L106.9,407.9 L107.8,408.2 L108.8,408.5 L109.7,408.8 L111.1,409.2 L112.5,409.6 L114.0,409.9 L115.4,410.3 L117.3,410.6 L119.1,411.0 L121.0,411.3 L123.4,411.7 L125.7,412.0 L128.1,412.3 L130.5,412.6 L130.5,411.9 L130.6,411.7 L130.6,411.6 L130.7,411.5 L130.8,411.4 L131.0,411.2 L131.2,411.0 L131.4,410.8 L131.7,410.5 L132.0,410.2 L132.3,409.7 L132.8,409.3 L133.3,408.8 L133.9,408.2 L134.4,407.7 L135.2,407.0 L136.1,406.1 L137.1,405.3 L138.0,404.6 L139.4,403.5 L140.8,402.5 L142.2,401.6 L143.7,400.7 L145.5,399.7 L147.4,398.7 L149.3,397.9 L151.7,396.9 L154.0,396.1 L156.4,395.3 L158.7,394.7 L158.7,394.8 L158.8,394.9 L158.9,395.0 L159.0,395.0 L159.1,395.1 L159.3,395.3 L159.5,395.4 L159.7,395.6 L160.0,395.8 L160.3,396.0 L160.6,396.3 L161.1,396.7 L161.6,397.0 L162.1,397.4 L162.7,397.8 L163.5,398.3 L164.4,398.9 L165.3,399.4 L166.3,399.9 L167.7,400.7 L169.1,401.3 L170.5,402.0 L171.9,402.5 L173.8,403.2 L175.7,403.8 L177.6,404.4 L180.0,405.0 L182.3,405.5 L184.7,406.0 L187.0,406.4 L187.0,406.3 L187.1,406.2 L187.2,406.0 L187.3,405.9 L187.4,405.8 L187.6,405.5 L187.8,405.2 L188.0,405.0 L188.3,404.6 L188.5,404.2 L188.9,403.7 L189.4,403.1 L189.9,402.5 L190.4,401.8 L191.0,401.1 L191.7,400.2 L192.7,399.2 L193.6,398.2 L194.6,397.2 L196.0,395.9 L197.4,394.6 L198.8,393.5 L200.2,392.4 L202.1,391.1 L204.0,389.9 L205.9,388.8 L208.2,387.6 L210.6,386.6 L213.0,385.7 L215.3,384.8 L215.3,384.8 L215.4,384.9 L215.5,385.0 L215.6,385.1 L215.7,385.2 L215.9,385.4 L216.1,385.6 L216.3,385.7 L216.5,386.0 L216.8,386.2 L217.2,386.6 L217.7,387.0 L218.1,387.4 L218.7,387.8 L219.3,388.3 L220.0,388.9 L221.0,389.6 L221.9,390.2 L222.9,390.9 L224.3,391.8 L225.7,392.7 L227.1,393.5 L228.5,394.2 L230.4,395.2 L232.3,396.0 L234.2,396.8 L236.5,397.7 L238.9,398.5 L241.2,399.2 L243.6,399.8" fill="none" stroke="#404040" stroke-width="1.90" stroke-linejoin="round" stroke-linecap="round"/>
<path d="M45.6,417.4 L73.9,417.4 L73.9,417.4 L74.0,417.0 L74.1,416.7 L74.2,416.4 L74.3,416.1 L74.5,415.6 L74.6,415.0 L74.8,414.6 L75.1,413.9 L75.4,413.3 L75.8,412.6 L76.2,411.9 L76.7,411.3 L77.3,410.7 L77.8,410.2 L78.6,409.7 L79.5,409.3 L80.5,408.9 L81.4,408.6 L82.8,408.3 L84.3,408.1 L85.7,407.9 L87.1,407.7 L89.0,407.5 L90.9,407.3 L92.7,407.1 L95.1,406.9 L97.5,406.6 L99.8,406.4 L102.2,406.1 L102.2,406.1 L102.3,406.8 L102.4,407.4 L102.5,407.8 L102.5,408.1 L102.7,408.5 L102.9,408.8 L103.1,409.1 L103.4,409.4 L103.7,409.6 L104.1,409.9 L104.5,410.3 L105.0,410.6 L105.6,410.9 L106.1,411.3 L106.9,411.6 L107.8,412.1 L108.8,412.5 L109.7,412.8 L111.1,413.2 L112.5,413.5 L114.0,413.8 L115.4,414.0 L117.3,414.2 L119.1,414.4 L121.0,414.5 L123.4,414.6 L125.7,414.7 L128.1,414.8 L130.5,414.8 L130.5,414.8 L130.6,411.7 L130.6,409.9 L130.7,408.7 L130.8,407.9 L131.0,407.1 L131.2,406.8 L131.4,406.5 L131.7,406.3 L132.0,406.1 L132.3,405.9 L132.8,405.6 L133.3,405.4 L133.9,405.2 L134.4,405.0 L135.2,404.7 L136.1,404.5 L137.1,404.3 L138.0,404.1 L139.4,403.9 L140.8,403.7 L142.2,403.6 L143.7,403.5 L145.5,403.3 L147.4,403.2 L149.3,403.1 L151.7,403.0 L154.0,402.9 L156.4,402.8 L158.7,402.6 L158.7,402.6 L158.8,403.8 L158.9,404.6 L159.0,405.3 L159.1,405.8 L159.3,406.5 L159.5,407.0 L159.7,407.4 L160.0,407.9 L160.3,408.3 L160.6,408.7 L161.1,409.3 L161.6,409.8 L162.1,410.3 L162.7,410.8 L163.5,411.4 L164.4,412.0 L165.3,412.5 L166.3,412.9 L167.7,413.5 L169.1,413.9 L170.5,414.2 L171.9,414.5 L173.8,414.7 L175.7,414.9 L177.6,415.0 L180.0,415.1 L182.3,415.2 L184.7,415.3 L187.0,415.3 L187.0,415.3 L187.1,410.6 L187.2,407.7 L187.3,405.9 L187.4,404.8 L187.6,403.6 L187.8,403.1 L188.0,402.8 L188.3,402.6 L188.5,402.4 L188.9,402.2 L189.4,401.9 L189.9,401.7 L190.4,401.5 L191.0,401.4 L191.7,401.2 L192.7,401.0 L193.6,400.9 L194.6,400.8 L196.0,400.7 L197.4,400.6 L198.8,400.5 L200.2,400.5 L202.1,400.4 L204.0,400.4 L205.9,400.3 L208.2,400.2 L210.6,400.2 L213.0,400.1 L215.3,400.1 L215.3,400.1 L215.4,401.2 L215.5,402.1 L215.6,402.7 L215.7,403.2 L215.9,403.9 L216.1,404.4 L216.3,404.8 L216.5,405.2 L216.8,405.5 L217.2,405.9 L217.7,406.4 L218.1,406.8 L218.7,407.3 L219.3,407.8 L220.0,408.4 L221.0,409.0 L221.9,409.6 L222.9,410.2 L224.3,410.9 L225.7,411.5 L227.1,412.0 L228.5,412.4 L230.4,412.9 L232.3,413.2 L234.2,413.5 L236.5,413.8 L238.9,414.1 L241.2,414.2 L243.6,414.4" fill="none" stroke="#1aa866" stroke-width="2.00" stroke-linejoin="round" stroke-linecap="round"/>
<path d="M45.6,417.4 L73.9,417.4 L73.9,417.4 L74.0,412.1 L74.1,408.9 L74.2,406.9 L74.3,405.6 L74.5,404.2 L74.6,403.5 L74.8,403.0 L75.1,402.6 L75.4,402.2 L75.8,401.8 L76.2,401.3 L76.7,400.8 L77.3,400.4 L77.8,400.0 L78.6,399.5 L79.5,399.0 L80.5,398.6 L81.4,398.3 L82.8,397.9 L84.3,397.5 L85.7,397.2 L87.1,396.9 L89.0,396.5 L90.9,396.2 L92.7,395.9 L95.1,395.5 L97.5,395.1 L99.8,394.7 L102.2,394.3 L102.2,394.5 L102.3,397.5 L102.4,399.8 L102.5,401.6 L102.5,403.0 L102.7,405.0 L102.9,406.3 L103.1,407.1 L103.4,407.9 L103.7,408.3 L104.1,408.7 L104.5,409.1 L105.0,409.4 L105.6,409.8 L106.1,410.1 L106.9,410.5 L107.8,410.9 L108.8,411.3 L109.7,411.7 L111.1,412.1 L112.5,412.6 L114.0,412.9 L115.4,413.2 L117.3,413.6 L119.1,413.8 L121.0,414.1 L123.4,414.3 L125.7,414.5 L128.1,414.6 L130.5,414.7 L130.5,414.7 L130.6,405.5 L130.6,399.8 L130.7,396.2 L130.8,394.0 L131.0,391.6 L131.2,390.5 L131.4,389.9 L131.7,389.3 L132.0,388.9 L132.3,388.5 L132.8,388.1 L133.3,387.8 L133.9,387.6 L134.4,387.4 L135.2,387.2 L136.1,387.1 L137.1,386.9 L138.0,386.8 L139.4,386.7 L140.8,386.6 L142.2,386.5 L143.7,386.4 L145.5,386.2 L147.4,386.0 L149.3,385.9 L151.7,385.7 L154.0,385.5 L156.4,385.3 L158.7,385.1 L158.7,385.1 L158.8,389.5 L158.9,392.7 L159.0,395.0 L159.1,396.7 L159.3,398.9 L159.5,400.2 L159.7,401.1 L160.0,401.9 L160.3,402.5 L160.6,403.1 L161.1,403.8 L161.6,404.4 L162.1,405.1 L162.7,405.8 L163.5,406.6 L164.4,407.5 L165.3,408.3 L166.3,408.9 L167.7,409.8 L169.1,410.5 L170.5,411.1 L171.9,411.6 L173.8,412.1 L175.7,412.4 L177.6,412.7 L180.0,413.0 L182.3,413.2 L184.7,413.3 L187.0,413.4 L187.0,413.4 L187.1,402.3 L187.2,395.5 L187.3,391.2 L187.4,388.5 L187.6,385.6 L187.8,384.3 L188.0,383.5 L188.3,382.7 L188.5,382.1 L188.9,381.5 L189.4,380.8 L189.9,380.3 L190.4,379.7 L191.0,379.3 L191.7,378.9 L192.7,378.5 L193.6,378.3 L194.6,378.1 L196.0,377.9 L197.4,377.9 L198.8,377.8 L200.2,377.8 L202.1,377.8 L204.0,377.8 L205.9,377.8 L208.2,377.8 L210.6,377.8 L213.0,377.8 L215.3,377.8 L215.3,377.8 L215.4,384.6 L215.5,389.6 L215.6,393.2 L215.7,395.8 L215.9,399.1 L216.1,400.9 L216.3,402.0 L216.5,402.9 L216.8,403.4 L217.2,403.9 L217.7,404.4 L218.1,404.8 L218.7,405.3 L219.3,405.8 L220.0,406.3 L221.0,406.9 L221.9,407.5 L222.9,407.9 L224.3,408.5 L225.7,409.0 L227.1,409.4 L228.5,409.7 L230.4,410.1 L232.3,410.3 L234.2,410.5 L236.5,410.7 L238.9,410.8 L241.2,410.9 L243.6,411.0" fill="none" stroke="#c378ec" stroke-width="2.00" stroke-linejoin="round" stroke-linecap="round"/>
<path d="M45.6,417.4 L73.9,417.4 L73.9,417.4 L74.0,411.9 L74.1,407.8 L74.2,404.9 L74.3,402.6 L74.5,399.7 L74.6,398.0 L74.8,396.8 L75.1,395.6 L75.4,394.7 L75.8,393.6 L76.2,392.5 L76.7,391.4 L77.3,390.1 L77.8,388.9 L78.6,387.5 L79.5,385.8 L80.5,384.3 L81.4,383.0 L82.8,381.2 L84.3,379.6 L85.7,378.2 L87.1,376.9 L89.0,375.5 L90.9,374.2 L92.7,373.0 L95.1,371.8 L97.5,370.6 L99.8,369.6 L102.2,368.6 L102.2,368.1 L102.3,376.5 L102.4,381.8 L102.5,385.1 L102.5,387.2 L102.7,389.6 L102.9,390.8 L103.1,391.6 L103.4,392.5 L103.7,393.3 L104.1,394.2 L104.5,395.3 L105.0,396.3 L105.6,397.5 L106.1,398.5 L106.9,399.7 L107.8,401.1 L108.8,402.3 L109.7,403.3 L111.1,404.7 L112.5,405.9 L114.0,406.9 L115.4,407.8 L117.3,408.8 L119.1,409.7 L121.0,410.4 L123.4,411.1 L125.7,411.7 L128.1,412.2 L130.5,412.6 L130.5,412.6 L130.6,391.0 L130.6,379.6 L130.7,373.5 L130.8,370.1 L131.0,366.8 L131.2,365.2 L131.4,364.1 L131.7,362.7 L132.0,361.4 L132.3,359.9 L132.8,358.1 L133.3,356.6 L133.9,354.9 L134.4,353.5 L135.2,351.8 L136.1,349.9 L137.1,348.4 L138.0,347.1 L139.4,345.4 L140.8,344.1 L142.2,342.9 L143.7,342.0 L145.5,340.9 L147.4,340.0 L149.3,339.3 L151.7,338.6 L154.0,338.0 L156.4,337.5 L158.7,337.1 L158.7,336.7 L158.8,350.5 L158.9,359.2 L159.0,364.7 L159.1,368.3 L159.3,372.5 L159.5,374.9 L159.7,376.5 L160.0,378.5 L160.3,380.1 L160.6,382.1 L161.1,384.3 L161.6,386.3 L162.1,388.3 L162.7,390.1 L163.5,392.0 L164.4,394.1 L165.3,395.7 L166.3,397.1 L167.7,398.7 L169.1,399.9 L170.5,400.9 L171.9,401.7 L173.8,402.7 L175.7,403.4 L177.6,404.0 L180.0,404.7 L182.3,405.2 L184.7,405.7 L187.0,406.1 L187.0,407.3 L187.1,371.3 L187.2,349.3 L187.3,335.9 L187.4,327.7 L187.6,319.6 L187.8,316.4 L188.0,315.0 L188.3,314.1 L188.5,313.6 L188.9,313.1 L189.4,312.6 L189.9,312.2 L190.4,311.7 L191.0,311.3 L191.7,310.9 L192.7,310.4 L193.6,310.0 L194.6,309.7 L196.0,309.2 L197.4,308.8 L198.8,308.3 L200.2,307.9 L202.1,307.4 L204.0,306.9 L205.9,306.4 L208.2,305.7 L210.6,305.0 L213.0,304.4 L215.3,303.7 L215.3,304.0 L215.4,325.2 L215.5,339.6 L215.6,349.5 L215.7,356.4 L215.9,364.6 L216.1,368.9 L216.3,371.3 L216.5,373.6 L216.8,375.2 L217.2,376.8 L217.7,378.5 L218.1,379.9 L218.7,381.4 L219.3,382.8 L220.0,384.3 L221.0,386.0 L221.9,387.5 L222.9,388.9 L224.3,390.7 L225.7,392.4 L227.1,393.8 L228.5,395.1 L230.4,396.7 L232.3,398.0 L234.2,399.1 L236.5,400.3 L238.9,401.3 L241.2,402.2 L243.6,402.9" fill="none" stroke="#eba00f" stroke-width="2.00" stroke-linejoin="round" stroke-linecap="round"/>
<rect x="45.60" y="260.70" width="198.00" height="165.90" fill="none" stroke="#7a7a7a" stroke-width="1.1"/>
<line x1="45.60" y1="426.60" x2="45.60" y2="424.40" stroke="#555" stroke-width="0.9"/>
<line x1="59.74" y1="426.60" x2="59.74" y2="425.10" stroke="#555" stroke-width="0.9"/>
<line x1="73.89" y1="426.60" x2="73.89" y2="424.40" stroke="#555" stroke-width="0.9"/>
<line x1="88.03" y1="426.60" x2="88.03" y2="425.10" stroke="#555" stroke-width="0.9"/>
<line x1="102.17" y1="426.60" x2="102.17" y2="424.40" stroke="#555" stroke-width="0.9"/>
<line x1="116.31" y1="426.60" x2="116.31" y2="425.10" stroke="#555" stroke-width="0.9"/>
<line x1="130.46" y1="426.60" x2="130.46" y2="424.40" stroke="#555" stroke-width="0.9"/>
<line x1="144.60" y1="426.60" x2="144.60" y2="425.10" stroke="#555" stroke-width="0.9"/>
<line x1="158.74" y1="426.60" x2="158.74" y2="424.40" stroke="#555" stroke-width="0.9"/>
<line x1="172.89" y1="426.60" x2="172.89" y2="425.10" stroke="#555" stroke-width="0.9"/>
<line x1="187.03" y1="426.60" x2="187.03" y2="424.40" stroke="#555" stroke-width="0.9"/>
<line x1="201.17" y1="426.60" x2="201.17" y2="425.10" stroke="#555" stroke-width="0.9"/>
<line x1="215.31" y1="426.60" x2="215.31" y2="424.40" stroke="#555" stroke-width="0.9"/>
<line x1="229.46" y1="426.60" x2="229.46" y2="425.10" stroke="#555" stroke-width="0.9"/>
<line x1="243.60" y1="426.60" x2="243.60" y2="424.40" stroke="#555" stroke-width="0.9"/>
<line x1="45.60" y1="403.56" x2="47.40" y2="403.56" stroke="#555" stroke-width="0.9"/>
<line x1="45.60" y1="375.91" x2="47.40" y2="375.91" stroke="#555" stroke-width="0.9"/>
<line x1="45.60" y1="348.26" x2="47.40" y2="348.26" stroke="#555" stroke-width="0.9"/>
<line x1="45.60" y1="320.61" x2="47.40" y2="320.61" stroke="#555" stroke-width="0.9"/>
<line x1="45.60" y1="292.96" x2="47.40" y2="292.96" stroke="#555" stroke-width="0.9"/>
<line x1="45.60" y1="265.31" x2="47.40" y2="265.31" stroke="#555" stroke-width="0.9"/>
<line x1="243.60" y1="403.56" x2="241.80" y2="403.56" stroke="#555" stroke-width="0.9"/>
<line x1="243.60" y1="375.91" x2="241.80" y2="375.91" stroke="#555" stroke-width="0.9"/>
<line x1="243.60" y1="348.26" x2="241.80" y2="348.26" stroke="#555" stroke-width="0.9"/>
<line x1="243.60" y1="320.61" x2="241.80" y2="320.61" stroke="#555" stroke-width="0.9"/>
<line x1="243.60" y1="292.96" x2="241.80" y2="292.96" stroke="#555" stroke-width="0.9"/>
<line x1="243.60" y1="265.31" x2="241.80" y2="265.31" stroke="#555" stroke-width="0.9"/>
<text x="45.60" y="436.80" font-size="9.00" font-weight="normal" fill="#2a2a2a" text-anchor="middle">0</text>
<text x="73.89" y="436.80" font-size="9.00" font-weight="normal" fill="#2a2a2a" text-anchor="middle">300</text>
<text x="102.17" y="436.80" font-size="9.00" font-weight="normal" fill="#2a2a2a" text-anchor="middle">600</text>
<text x="130.46" y="436.80" font-size="9.00" font-weight="normal" fill="#2a2a2a" text-anchor="middle">900</text>
<text x="158.74" y="436.80" font-size="9.00" font-weight="normal" fill="#2a2a2a" text-anchor="middle">1200</text>
<text x="187.03" y="436.80" font-size="9.00" font-weight="normal" fill="#2a2a2a" text-anchor="middle">1500</text>
<text x="215.31" y="436.80" font-size="9.00" font-weight="normal" fill="#2a2a2a" text-anchor="middle">1800</text>
<text x="243.60" y="436.80" font-size="9.00" font-weight="normal" fill="#2a2a2a" text-anchor="middle">2100</text>
<text x="42.40" y="420.58" font-size="9.00" font-weight="normal" fill="#2a2a2a" text-anchor="end">0.0</text>
<text x="42.40" y="392.93" font-size="9.00" font-weight="normal" fill="#2a2a2a" text-anchor="end">3.0</text>
<text x="42.40" y="365.28" font-size="9.00" font-weight="normal" fill="#2a2a2a" text-anchor="end">6.0</text>
<text x="42.40" y="337.63" font-size="9.00" font-weight="normal" fill="#2a2a2a" text-anchor="end">9.0</text>
<text x="42.40" y="309.98" font-size="9.00" font-weight="normal" fill="#2a2a2a" text-anchor="end">12.0</text>
<text x="42.40" y="282.33" font-size="9.00" font-weight="normal" fill="#2a2a2a" text-anchor="end">15.0</text>
<text x="247.10" y="421.38" font-size="9.00" font-weight="normal" fill="#2a2a2a" text-anchor="start">0</text>
<text x="247.10" y="393.73" font-size="9.00" font-weight="normal" fill="#2a2a2a" text-anchor="start">10</text>
<text x="247.10" y="366.08" font-size="9.00" font-weight="normal" fill="#2a2a2a" text-anchor="start">20</text>
<text x="247.10" y="338.43" font-size="9.00" font-weight="normal" fill="#2a2a2a" text-anchor="start">30</text>
<text x="247.10" y="310.78" font-size="9.00" font-weight="normal" fill="#2a2a2a" text-anchor="start">40</text>
<text x="247.10" y="283.13" font-size="9.00" font-weight="normal" fill="#2a2a2a" text-anchor="start">50</text>
<text x="52.60" y="276.00" font-size="13.00" font-weight="bold" fill="#111" text-anchor="start">(c)</text>
<text x="113.10" y="273.80" font-size="10.60" font-weight="bold" fill="#1010f0" text-anchor="start">UV ON</text>
<text x="70.60" y="379.40" font-size="10.20" font-weight="bold" fill="#111" text-anchor="start" textLength="34.0" lengthAdjust="spacingAndGlyphs" stroke="#111" stroke-width="0.30">10 ppm</text>
<text x="109.50" y="339.60" font-size="10.20" font-weight="bold" fill="#111" text-anchor="start" textLength="34.0" lengthAdjust="spacingAndGlyphs" stroke="#111" stroke-width="0.30">25 ppm</text>
<text x="184.70" y="276.30" font-size="10.20" font-weight="bold" fill="#111" text-anchor="start" textLength="34.0" lengthAdjust="spacingAndGlyphs" stroke="#111" stroke-width="0.30">50 ppm</text>
<text x="138.70" y="448.80" font-size="11.00" font-weight="bold" fill="#111" text-anchor="middle">Time (sec)</text>
<text transform="translate(16.40,353.70) rotate(-90)" x="0" y="0" font-size="11.00" font-weight="bold" fill="#111" text-anchor="middle">Normalized response</text>
<text transform="translate(268.20,347.00) rotate(-90)" x="0" y="0" font-size="11.00" font-weight="bold" fill="#111" text-anchor="middle">Gas concentration (ppm)</text>
<rect x="320.00" y="262.20" width="200.00" height="168.80" fill="#fcefcf"/>
<line x1="348.57" y1="262.20" x2="348.57" y2="431.00" stroke="#cdcdcd" stroke-width="0.9" stroke-dasharray="1,1.3"/>
<line x1="377.14" y1="262.20" x2="377.14" y2="431.00" stroke="#cdcdcd" stroke-width="0.9" stroke-dasharray="1,1.3"/>
<line x1="405.71" y1="262.20" x2="405.71" y2="431.00" stroke="#cdcdcd" stroke-width="0.9" stroke-dasharray="1,1.3"/>
<line x1="434.29" y1="262.20" x2="434.29" y2="431.00" stroke="#cdcdcd" stroke-width="0.9" stroke-dasharray="1,1.3"/>
<line x1="462.86" y1="262.20" x2="462.86" y2="431.00" stroke="#cdcdcd" stroke-width="0.9" stroke-dasharray="1,1.3"/>
<line x1="491.43" y1="262.20" x2="491.43" y2="431.00" stroke="#cdcdcd" stroke-width="0.9" stroke-dasharray="1,1.3"/>
<line x1="320.00" y1="414.66" x2="520.00" y2="414.66" stroke="#cdcdcd" stroke-width="0.9" stroke-dasharray="1,1.3"/>
<line x1="320.00" y1="387.44" x2="520.00" y2="387.44" stroke="#cdcdcd" stroke-width="0.9" stroke-dasharray="1,1.3"/>
<line x1="320.00" y1="360.21" x2="520.00" y2="360.21" stroke="#cdcdcd" stroke-width="0.9" stroke-dasharray="1,1.3"/>
<line x1="320.00" y1="332.99" x2="520.00" y2="332.99" stroke="#cdcdcd" stroke-width="0.9" stroke-dasharray="1,1.3"/>
<line x1="320.00" y1="305.76" x2="520.00" y2="305.76" stroke="#cdcdcd" stroke-width="0.9" stroke-dasharray="1,1.3"/>
<line x1="320.00" y1="278.54" x2="520.00" y2="278.54" stroke="#cdcdcd" stroke-width="0.9" stroke-dasharray="1,1.3"/>
<path d="M351.30,428.30 L351.30,388.50 L377.80,388.50 L377.80,428.30 Z" fill="none" stroke="#666" stroke-width="0.9" stroke-dasharray="2,1.4"/>
<path d="M405.71,428.30 L405.71,349.80 L434.29,349.80 L434.29,428.30 Z" fill="none" stroke="#666" stroke-width="0.9" stroke-dasharray="2,1.4"/>
<path d="M462.86,428.30 L462.86,279.00 L491.43,279.00 L491.43,428.30 Z" fill="none" stroke="#666" stroke-width="0.9" stroke-dasharray="2,1.4"/>
<path d="M320.0,415.2 L348.6,415.2 L348.6,415.2 L405.7,413.6 L405.7,413.6 L434.3,412.5 L434.3,412.5 L462.9,412.8 L462.9,412.8 L491.4,411.4 L491.4,411.4 L520.0,413.0" fill="none" stroke="#f23c3c" stroke-width="2.00" stroke-linejoin="round" stroke-linecap="round"/>
<path d="M320.0,414.7 L348.6,414.7 L348.6,414.7 L348.7,414.6 L348.8,414.6 L348.9,414.6 L349.0,414.6 L349.1,414.6 L349.3,414.5 L349.5,414.5 L349.8,414.5 L350.1,414.4 L350.5,414.4 L351.0,414.3 L351.4,414.2 L352.0,414.1 L352.6,414.0 L353.3,413.9 L354.3,413.8 L355.2,413.7 L356.2,413.6 L357.6,413.4 L359.0,413.3 L360.5,413.1 L361.9,413.0 L363.8,412.9 L365.7,412.7 L367.6,412.6 L370.0,412.5 L372.4,412.3 L374.8,412.2 L377.1,412.1 L377.1,412.1 L377.2,412.1 L377.3,412.1 L377.4,412.1 L377.5,412.2 L377.7,412.2 L377.9,412.2 L378.1,412.2 L378.4,412.2 L378.7,412.3 L379.0,412.3 L379.5,412.4 L380.0,412.4 L380.6,412.5 L381.1,412.5 L381.9,412.6 L382.9,412.7 L383.8,412.8 L384.8,412.8 L386.2,412.9 L387.6,413.0 L389.0,413.1 L390.5,413.2 L392.4,413.2 L394.3,413.3 L396.2,413.4 L398.6,413.5 L401.0,413.5 L403.3,413.6 L405.7,413.6 L405.7,413.6 L405.8,413.6 L405.9,413.5 L406.0,413.5 L406.1,413.5 L406.3,413.5 L406.5,413.4 L406.7,413.4 L407.0,413.4 L407.2,413.3 L407.6,413.3 L408.1,413.2 L408.6,413.1 L409.1,413.0 L409.7,413.0 L410.5,412.9 L411.4,412.7 L412.4,412.6 L413.3,412.5 L414.8,412.3 L416.2,412.2 L417.6,412.1 L419.0,411.9 L421.0,411.8 L422.9,411.6 L424.8,411.5 L427.1,411.4 L429.5,411.2 L431.9,411.1 L434.3,411.0 L434.3,411.0 L434.4,411.0 L434.5,411.0 L434.6,411.1 L434.7,411.1 L434.9,411.1 L435.0,411.1 L435.2,411.2 L435.5,411.2 L435.8,411.2 L436.2,411.3 L436.7,411.4 L437.1,411.4 L437.7,411.5 L438.3,411.6 L439.0,411.7 L440.0,411.8 L441.0,411.9 L441.9,412.0 L443.3,412.1 L444.8,412.2 L446.2,412.3 L447.6,412.4 L449.5,412.5 L451.4,412.6 L453.3,412.7 L455.7,412.8 L458.1,412.9 L460.5,412.9 L462.9,413.0 L462.9,413.0 L463.0,413.0 L463.0,413.0 L463.1,412.9 L463.2,412.9 L463.4,412.9 L463.6,412.8 L463.8,412.8 L464.1,412.7 L464.4,412.6 L464.8,412.5 L465.2,412.4 L465.7,412.3 L466.3,412.1 L466.9,412.0 L467.6,411.8 L468.6,411.6 L469.5,411.4 L470.5,411.2 L471.9,411.0 L473.3,410.7 L474.8,410.5 L476.2,410.3 L478.1,410.0 L480.0,409.8 L481.9,409.6 L484.3,409.4 L486.7,409.1 L489.0,409.0 L491.4,408.8 L491.4,408.8 L491.5,408.8 L491.6,408.8 L491.7,408.9 L491.8,408.9 L492.0,409.0 L492.2,409.0 L492.4,409.1 L492.7,409.1 L493.0,409.2 L493.3,409.3 L493.8,409.4 L494.3,409.6 L494.9,409.7 L495.4,409.8 L496.2,410.0 L497.1,410.2 L498.1,410.4 L499.0,410.5 L500.5,410.8 L501.9,411.0 L503.3,411.2 L504.8,411.4 L506.7,411.6 L508.6,411.8 L510.5,411.9 L512.9,412.1 L515.2,412.2 L517.6,412.4 L520.0,412.5" fill="none" stroke="#1f78e6" stroke-width="2.40" stroke-linejoin="round" stroke-linecap="round"/>
<path d="M320.0,395.1 L348.6,396.7 L348.6,383.1 L348.7,382.9 L348.8,382.7 L348.9,382.6 L349.0,382.4 L349.1,382.1 L349.3,381.8 L349.5,381.5 L349.8,381.1 L350.1,380.7 L350.5,380.2 L351.0,379.7 L351.4,379.2 L352.0,378.6 L352.6,378.2 L353.3,377.6 L354.3,377.0 L355.2,376.6 L356.2,376.2 L357.6,375.7 L359.0,375.3 L360.5,375.0 L361.9,374.8 L363.8,374.5 L365.7,374.3 L367.6,374.1 L370.0,373.9 L372.4,373.7 L374.8,373.5 L377.1,373.3 L377.1,373.3 L377.2,373.6 L377.3,373.9 L377.4,374.2 L377.5,374.5 L377.7,375.1 L377.9,375.7 L378.1,376.3 L378.4,377.0 L378.7,377.8 L379.0,378.7 L379.5,379.7 L380.0,380.6 L380.6,381.6 L381.1,382.5 L381.9,383.5 L382.9,384.6 L383.8,385.5 L384.8,386.3 L386.2,387.2 L387.6,388.0 L389.0,388.6 L390.5,389.1 L392.4,389.7 L394.3,390.1 L396.2,390.5 L398.6,390.9 L401.0,391.2 L403.3,391.5 L405.7,391.7 L405.7,377.1 L405.8,376.9 L405.9,376.7 L406.0,376.5 L406.1,376.3 L406.3,376.0 L406.5,375.6 L406.7,375.3 L407.0,374.9 L407.2,374.4 L407.6,373.9 L408.1,373.3 L408.6,372.8 L409.1,372.2 L409.7,371.8 L410.5,371.2 L411.4,370.6 L412.4,370.2 L413.3,369.8 L414.8,369.3 L416.2,369.0 L417.6,368.7 L419.0,368.4 L421.0,368.2 L422.9,367.9 L424.8,367.7 L427.1,367.5 L429.5,367.2 L431.9,367.0 L434.3,366.8 L434.3,366.2 L434.4,366.7 L434.5,367.1 L434.6,367.5 L434.7,368.0 L434.9,368.8 L435.0,369.5 L435.2,370.3 L435.5,371.3 L435.8,372.2 L436.2,373.4 L436.7,374.7 L437.1,375.9 L437.7,377.1 L438.3,378.1 L439.0,379.4 L440.0,380.6 L441.0,381.7 L441.9,382.6 L443.3,383.8 L444.8,384.7 L446.2,385.5 L447.6,386.2 L449.5,387.0 L451.4,387.7 L453.3,388.3 L455.7,388.9 L458.1,389.5 L460.5,389.9 L462.9,390.3 L462.9,367.8 L463.0,367.6 L463.0,367.3 L463.1,367.1 L463.2,366.9 L463.4,366.4 L463.6,366.0 L463.8,365.7 L464.1,365.1 L464.4,364.7 L464.8,364.1 L465.2,363.5 L465.7,363.0 L466.3,362.4 L466.9,362.0 L467.6,361.6 L468.6,361.1 L469.5,360.8 L470.5,360.6 L471.9,360.4 L473.3,360.2 L474.8,360.1 L476.2,360.0 L478.1,360.0 L480.0,359.9 L481.9,359.9 L484.3,359.8 L486.7,359.8 L489.0,359.7 L491.4,359.7 L491.4,359.7 L491.5,360.2 L491.6,360.7 L491.7,361.2 L491.8,361.7 L492.0,362.6 L492.2,363.5 L492.4,364.4 L492.7,365.6 L493.0,366.8 L493.3,368.2 L493.8,369.7 L494.3,371.2 L494.9,372.7 L495.4,374.0 L496.2,375.6 L497.1,377.3 L498.1,378.8 L499.0,380.1 L500.5,381.7 L501.9,383.0 L503.3,384.2 L504.8,385.2 L506.7,386.3 L508.6,387.3 L510.5,388.1 L512.9,388.9 L515.2,389.6 L517.6,390.2 L520.0,390.7" fill="none" stroke="#1aa866" stroke-width="2.00" stroke-linejoin="round" stroke-linecap="round"/>
<path d="M320.0,388.3 L348.6,390.2 L348.6,355.9 L348.7,355.5 L348.8,355.1 L348.9,354.7 L349.0,354.3 L349.1,353.5 L349.3,352.8 L349.5,352.1 L349.8,351.1 L350.1,350.1 L350.5,348.8 L351.0,347.3 L351.4,345.9 L352.0,344.4 L352.6,343.0 L353.3,341.2 L354.3,339.3 L355.2,337.6 L356.2,336.2 L357.6,334.3 L359.0,332.7 L360.5,331.4 L361.9,330.3 L363.8,329.1 L365.7,328.1 L367.6,327.3 L370.0,326.5 L372.4,325.8 L374.8,325.2 L377.1,324.6 L377.1,341.2 L377.2,342.5 L377.3,343.7 L377.4,344.9 L377.5,346.0 L377.7,348.0 L377.9,349.8 L378.1,351.4 L378.4,353.6 L378.7,355.4 L379.0,357.5 L379.5,359.6 L380.0,361.3 L380.6,362.9 L381.1,364.3 L381.9,365.8 L382.9,367.4 L383.8,368.7 L384.8,369.9 L386.2,371.4 L387.6,372.7 L389.0,373.9 L390.5,374.9 L392.4,376.1 L394.3,377.2 L396.2,378.0 L398.6,378.9 L401.0,379.7 L403.3,380.3 L405.7,380.8 L405.7,325.4 L405.8,324.5 L405.9,323.7 L406.0,322.9 L406.1,322.1 L406.3,320.6 L406.5,319.3 L406.7,318.0 L407.0,316.3 L407.2,314.8 L407.6,313.1 L408.1,311.2 L408.6,309.7 L409.1,308.2 L409.7,307.0 L410.5,305.8 L411.4,304.7 L412.4,303.9 L413.3,303.3 L414.8,302.7 L416.2,302.3 L417.6,301.9 L419.0,301.6 L421.0,301.3 L422.9,301.0 L424.8,300.7 L427.1,300.3 L429.5,300.0 L431.9,299.6 L434.3,299.2 L434.3,336.8 L434.4,337.4 L434.5,338.1 L434.6,338.7 L434.7,339.3 L434.9,340.5 L435.0,341.6 L435.2,342.7 L435.5,344.3 L435.8,345.8 L436.2,347.7 L436.7,349.8 L437.1,351.7 L437.7,353.8 L438.3,355.7 L439.0,358.0 L440.0,360.4 L441.0,362.4 L441.9,364.2 L443.3,366.4 L444.8,368.1 L446.2,369.6 L447.6,370.8 L449.5,372.1 L451.4,373.2 L453.3,374.2 L455.7,375.1 L458.1,375.9 L460.5,376.6 L462.9,377.2 L462.9,291.6 L463.0,291.3 L463.0,290.9 L463.1,290.6 L463.2,290.3 L463.4,289.7 L463.6,289.2 L463.8,288.6 L464.1,287.9 L464.4,287.2 L464.8,286.4 L465.2,285.5 L465.7,284.7 L466.3,283.9 L466.9,283.2 L467.6,282.5 L468.6,281.8 L469.5,281.2 L470.5,280.8 L471.9,280.4 L473.3,280.1 L474.8,280.0 L476.2,279.8 L478.1,279.7 L480.0,279.7 L481.9,279.7 L484.3,279.6 L486.7,279.6 L489.0,279.6 L491.4,279.6 L491.4,279.6 L491.5,289.1 L491.6,296.9 L491.7,303.3 L491.8,308.7 L492.0,316.8 L492.2,322.6 L492.4,326.6 L492.7,330.8 L493.0,333.6 L493.3,336.1 L493.8,338.4 L494.3,340.3 L494.9,342.3 L495.4,344.1 L496.2,346.4 L497.1,349.0 L498.1,351.4 L499.0,353.7 L500.5,356.7 L501.9,359.3 L503.3,361.7 L504.8,363.7 L506.7,366.1 L508.6,368.1 L510.5,369.9 L512.9,371.6 L515.2,373.1 L517.6,374.2 L520.0,375.2" fill="none" stroke="#c378ec" stroke-width="2.00" stroke-linejoin="round" stroke-linecap="round"/>
<rect x="320.00" y="262.20" width="200.00" height="168.80" fill="none" stroke="#555" stroke-width="1.1"/>
<rect x="320.00" y="262.20" width="200.00" height="168.80" fill="none" stroke="#e8201c" stroke-width="1.8" stroke-dasharray="4,2.5"/>
<line x1="320.00" y1="431.00" x2="320.00" y2="428.80" stroke="#555" stroke-width="0.9"/>
<line x1="334.29" y1="431.00" x2="334.29" y2="429.50" stroke="#555" stroke-width="0.9"/>
<line x1="348.57" y1="431.00" x2="348.57" y2="428.80" stroke="#555" stroke-width="0.9"/>
<line x1="362.86" y1="431.00" x2="362.86" y2="429.50" stroke="#555" stroke-width="0.9"/>
<line x1="377.14" y1="431.00" x2="377.14" y2="428.80" stroke="#555" stroke-width="0.9"/>
<line x1="391.43" y1="431.00" x2="391.43" y2="429.50" stroke="#555" stroke-width="0.9"/>
<line x1="405.71" y1="431.00" x2="405.71" y2="428.80" stroke="#555" stroke-width="0.9"/>
<line x1="420.00" y1="431.00" x2="420.00" y2="429.50" stroke="#555" stroke-width="0.9"/>
<line x1="434.29" y1="431.00" x2="434.29" y2="428.80" stroke="#555" stroke-width="0.9"/>
<line x1="448.57" y1="431.00" x2="448.57" y2="429.50" stroke="#555" stroke-width="0.9"/>
<line x1="462.86" y1="431.00" x2="462.86" y2="428.80" stroke="#555" stroke-width="0.9"/>
<line x1="477.14" y1="431.00" x2="477.14" y2="429.50" stroke="#555" stroke-width="0.9"/>
<line x1="491.43" y1="431.00" x2="491.43" y2="428.80" stroke="#555" stroke-width="0.9"/>
<line x1="505.71" y1="431.00" x2="505.71" y2="429.50" stroke="#555" stroke-width="0.9"/>
<line x1="520.00" y1="431.00" x2="520.00" y2="428.80" stroke="#555" stroke-width="0.9"/>
<line x1="320.00" y1="428.28" x2="321.80" y2="428.28" stroke="#555" stroke-width="0.9"/>
<line x1="320.00" y1="401.05" x2="321.80" y2="401.05" stroke="#555" stroke-width="0.9"/>
<line x1="320.00" y1="373.83" x2="321.80" y2="373.83" stroke="#555" stroke-width="0.9"/>
<line x1="320.00" y1="346.60" x2="321.80" y2="346.60" stroke="#555" stroke-width="0.9"/>
<line x1="320.00" y1="319.37" x2="321.80" y2="319.37" stroke="#555" stroke-width="0.9"/>
<line x1="320.00" y1="292.15" x2="321.80" y2="292.15" stroke="#555" stroke-width="0.9"/>
<line x1="320.00" y1="264.92" x2="321.80" y2="264.92" stroke="#555" stroke-width="0.9"/>
<line x1="520.00" y1="401.05" x2="518.20" y2="401.05" stroke="#555" stroke-width="0.9"/>
<line x1="520.00" y1="373.83" x2="518.20" y2="373.83" stroke="#555" stroke-width="0.9"/>
<line x1="520.00" y1="346.60" x2="518.20" y2="346.60" stroke="#555" stroke-width="0.9"/>
<line x1="520.00" y1="319.37" x2="518.20" y2="319.37" stroke="#555" stroke-width="0.9"/>
<line x1="520.00" y1="292.15" x2="518.20" y2="292.15" stroke="#555" stroke-width="0.9"/>
<line x1="520.00" y1="264.92" x2="518.20" y2="264.92" stroke="#555" stroke-width="0.9"/>
<text x="320.00" y="441.20" font-size="9.00" font-weight="normal" fill="#2a2a2a" text-anchor="middle">0</text>
<text x="348.57" y="441.20" font-size="9.00" font-weight="normal" fill="#2a2a2a" text-anchor="middle">300</text>
<text x="377.14" y="441.20" font-size="9.00" font-weight="normal" fill="#2a2a2a" text-anchor="middle">600</text>
<text x="405.71" y="441.20" font-size="9.00" font-weight="normal" fill="#2a2a2a" text-anchor="middle">900</text>
<text x="434.29" y="441.20" font-size="9.00" font-weight="normal" fill="#2a2a2a" text-anchor="middle">1200</text>
<text x="462.86" y="441.20" font-size="9.00" font-weight="normal" fill="#2a2a2a" text-anchor="middle">1500</text>
<text x="491.43" y="441.20" font-size="9.00" font-weight="normal" fill="#2a2a2a" text-anchor="middle">1800</text>
<text x="520.00" y="441.20" font-size="9.00" font-weight="normal" fill="#2a2a2a" text-anchor="middle">2100</text>
<text x="316.80" y="417.86" font-size="9.00" font-weight="normal" fill="#2a2a2a" text-anchor="end">0</text>
<text x="316.80" y="390.64" font-size="9.00" font-weight="normal" fill="#2a2a2a" text-anchor="end">50</text>
<text x="316.80" y="363.41" font-size="9.00" font-weight="normal" fill="#2a2a2a" text-anchor="end">100</text>
<text x="316.80" y="336.19" font-size="9.00" font-weight="normal" fill="#2a2a2a" text-anchor="end">150</text>
<text x="316.80" y="308.96" font-size="9.00" font-weight="normal" fill="#2a2a2a" text-anchor="end">200</text>
<text x="316.80" y="281.74" font-size="9.00" font-weight="normal" fill="#2a2a2a" text-anchor="end">250</text>
<text x="523.00" y="418.66" font-size="9.00" font-weight="normal" fill="#2a2a2a" text-anchor="start">0</text>
<text x="523.00" y="391.44" font-size="9.00" font-weight="normal" fill="#2a2a2a" text-anchor="start">10</text>
<text x="523.00" y="364.21" font-size="9.00" font-weight="normal" fill="#2a2a2a" text-anchor="start">20</text>
<text x="523.00" y="336.99" font-size="9.00" font-weight="normal" fill="#2a2a2a" text-anchor="start">30</text>
<text x="523.00" y="309.76" font-size="9.00" font-weight="normal" fill="#2a2a2a" text-anchor="start">40</text>
<text x="523.00" y="282.54" font-size="9.00" font-weight="normal" fill="#2a2a2a" text-anchor="start">50</text>
<text x="328.70" y="281.00" font-size="13.00" font-weight="bold" fill="#111" text-anchor="start">(b’)</text>
<text x="385.50" y="278.90" font-size="10.60" font-weight="bold" fill="#1010f0" text-anchor="start">UV ON</text>
<text x="354.10" y="400.20" font-size="10.20" font-weight="bold" fill="#111" text-anchor="start" textLength="33.6" lengthAdjust="spacingAndGlyphs" stroke="#111" stroke-width="0.30">10 ppm</text>
<text x="409.70" y="347.20" font-size="10.20" font-weight="bold" fill="#111" text-anchor="start" textLength="33.8" lengthAdjust="spacingAndGlyphs" stroke="#111" stroke-width="0.30">25 ppm</text>
<text x="463.50" y="277.50" font-size="10.20" font-weight="bold" fill="#111" text-anchor="start" textLength="33.8" lengthAdjust="spacingAndGlyphs" stroke="#111" stroke-width="0.30">50 ppm</text>
<text x="419.80" y="452.40" font-size="11.00" font-weight="bold" fill="#111" text-anchor="middle">Time (sec)</text>
<text transform="translate(295.90,345.00) rotate(-90)" x="0" y="0" font-size="11.00" font-weight="bold" fill="#111" text-anchor="middle">Resistance (kΩ)</text>
<text transform="translate(545.60,345.60) rotate(-90)" x="0" y="0" font-size="11.00" font-weight="bold" fill="#111" text-anchor="middle">Gas concentration (ppm)</text>
<path d="M512.6,217.8 L514.5,218.5 L516.4,219.4 L518.1,220.4 L519.8,221.7 L521.3,223.1 L522.8,224.7 L524.1,226.4 L525.3,228.3 L526.4,230.2 L527.3,232.3 L528.1,234.5 L528.8,236.7 L529.3,239.0 L529.7,241.4 L530.0,243.8 L530.1,246.2 L530.1,248.6 L530.0,251.0 L529.7,253.4 L529.3,255.8 L528.8,258.1 L528.1,260.3 L527.3,262.5 L526.4,264.6 L525.4,266.6 L524.2,268.5 L522.9,270.2 L521.5,271.8 L520.0,273.3 L518.4,274.6 L520.6,277.4 L522.3,275.7 L523.9,274.0 L525.4,272.0 L526.7,270.0 L527.9,267.9 L528.9,265.7 L529.8,263.4 L530.6,261.1 L531.2,258.7 L531.7,256.2 L532.1,253.7 L532.3,251.2 L532.4,248.7 L532.4,246.1 L532.3,243.6 L532.0,241.1 L531.6,238.6 L531.1,236.1 L530.5,233.7 L529.7,231.4 L528.8,229.1 L527.8,226.9 L526.6,224.8 L525.4,222.7 L523.9,220.8 L522.3,219.0 L520.6,217.3 L518.7,215.8 L516.6,214.4 L514.4,213.2 Z" fill="#f01818"/>
<circle cx="513.8" cy="215.6" r="2.5" fill="#f01818"/>
<path d="M511.8,277.6 L517.3,271.4 L522.6,281.4 Z" fill="#f01818" stroke="#f01818" stroke-width="0.8" stroke-linejoin="round"/>
</svg></body></html>
